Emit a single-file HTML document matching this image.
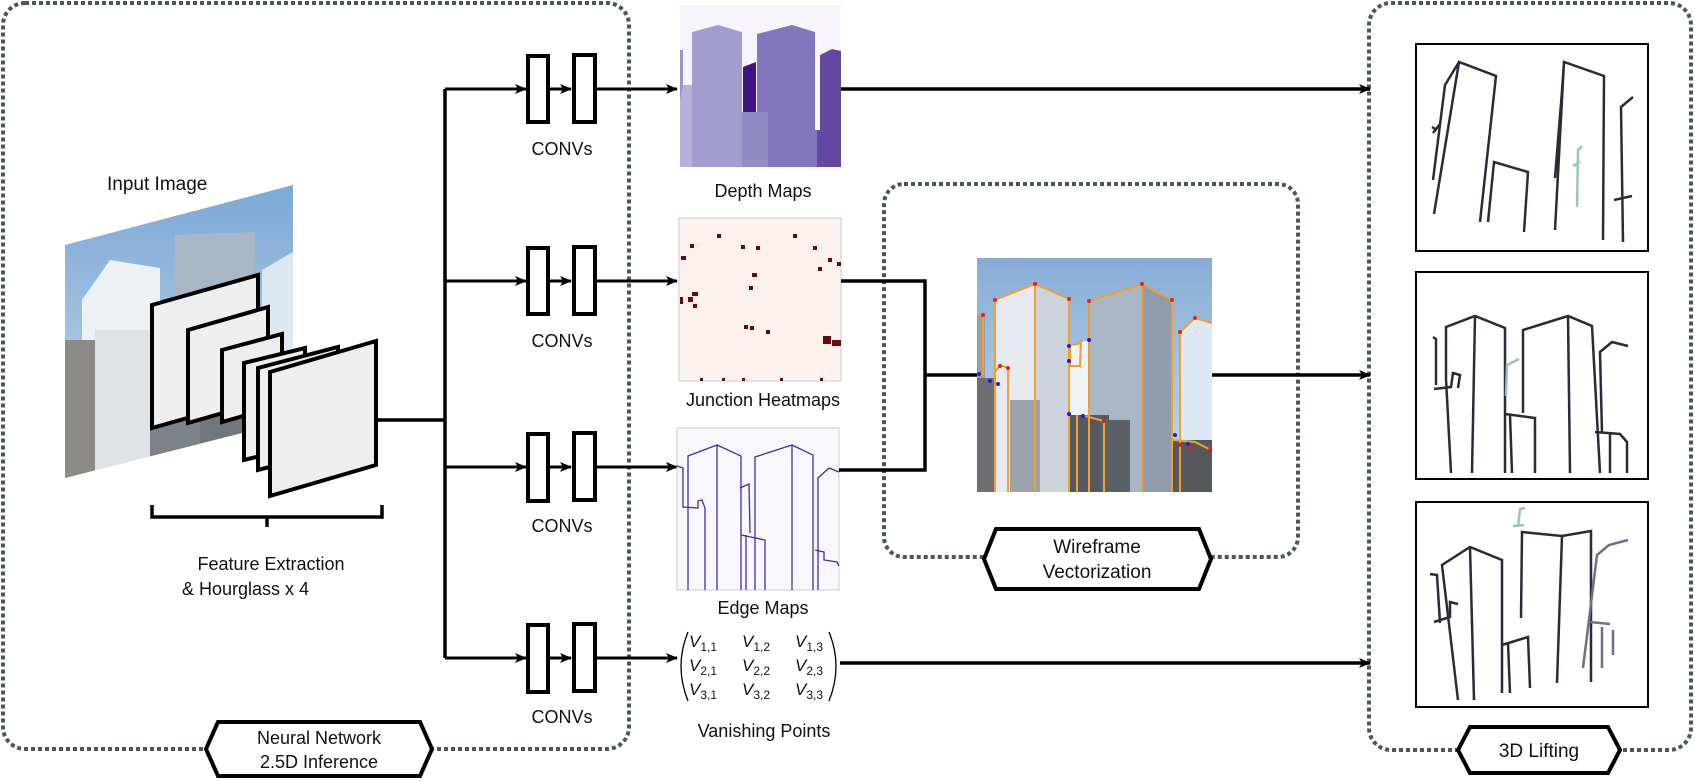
<!DOCTYPE html>
<html><head><meta charset="utf-8"><style>
html,body{margin:0;padding:0;background:#fff}
svg{display:block}
text{font-family:"Liberation Sans",Arial,sans-serif;fill:#111}
</style></head><body>
<svg width="1695" height="781" viewBox="0 0 1695 781" xmlns="http://www.w3.org/2000/svg">
<defs>
<marker id="ar" markerWidth="12" markerHeight="10" refX="11" refY="5" orient="auto" markerUnits="userSpaceOnUse">
<path d="M0,0 L12,5 L0,10 L3,5 Z" fill="#000"/></marker>
<linearGradient id="sky" x1="0" y1="0" x2="0" y2="1"><stop offset="0" stop-color="#7ba8d6"/><stop offset="1" stop-color="#c4d9ec"/></linearGradient>
<linearGradient id="sky2" x1="0" y1="0" x2="0" y2="1"><stop offset="0" stop-color="#86acd6"/><stop offset="1" stop-color="#c8dcee"/></linearGradient>
<clipPath id="cin"><polygon points="65,245 293,185 293,420 65,478"/></clipPath>
</defs>

<g fill="none" stroke="#4b575b" stroke-width="4" stroke-dasharray="4 3">
<rect x="3" y="3" width="626" height="746" rx="22"/>
<rect x="1369" y="3" width="322" height="747" rx="22"/>
<rect x="884" y="184" width="414" height="373" rx="20"/>
</g>

<text x="107" y="190" font-size="19">Input Image</text>
<g clip-path="url(#cin)">
<rect x="60" y="180" width="240" height="300" fill="url(#sky)"/>
<polygon points="82,300 110,260 160,268 160,480 82,480" fill="#eef1f3"/>
<polygon points="175,235 255,232 255,480 175,480" fill="#a7b7c6"/>
<polygon points="262,270 293,252 293,480 262,480" fill="#dde9f2"/>
<rect x="65" y="340" width="30" height="140" fill="#8b8a86"/>
<rect x="95" y="330" width="70" height="150" fill="#dfe3e6"/>
<rect x="150" y="370" width="50" height="110" fill="#7d8388"/>
<rect x="200" y="380" width="60" height="100" fill="#6f767c"/>
</g>

<g fill="#eeeeee" stroke="#000" stroke-width="4" stroke-linejoin="miter">
<polygon points="152,305 258,275 258,398 152,428"/>
<polygon points="188,330 268,307 268,400 188,423"/>
<polygon points="222,350 282,334 282,405 222,422"/>
<polygon points="244,363 305,348 305,445 244,460"/>
<polygon points="258,368 338,347 338,450 258,470"/>
<polygon points="270,372 376,341 376,465 270,496"/>
</g>
<path d="M152,505 v12 h230 v-12 M267,517 v10" fill="none" stroke="#000" stroke-width="3.5"/>
<text x="271" y="570" font-size="18" text-anchor="middle">Feature Extraction</text>
<text x="182" y="595" font-size="18">&amp; Hourglass x 4</text>

<g stroke="#000" stroke-width="3.5" fill="none">
<path d="M376,420 H445"/>
<path d="M445,89 V658"/>
</g>
<g stroke="#000" stroke-width="3" fill="none">
<path d="M445,89 H526" marker-end="url(#ar)"/><path d="M550,89 H571" marker-end="url(#ar)"/><path d="M595,89 H677" marker-end="url(#ar)"/>
<path d="M445,281 H526" marker-end="url(#ar)"/><path d="M550,281 H571" marker-end="url(#ar)"/><path d="M595,281 H677" marker-end="url(#ar)"/>
<path d="M445,467 H526" marker-end="url(#ar)"/><path d="M550,467 H571" marker-end="url(#ar)"/><path d="M595,467 H677" marker-end="url(#ar)"/>
<path d="M445,658 H526" marker-end="url(#ar)"/><path d="M550,658 H571" marker-end="url(#ar)"/><path d="M595,658 H677" marker-end="url(#ar)"/>
</g>
<g fill="#fff" stroke="#000" stroke-width="4">
<rect x="528" y="56" width="20" height="66"/><rect x="574" y="55" width="21" height="67"/>
<rect x="528" y="248" width="20" height="66"/><rect x="574" y="247" width="21" height="67"/>
<rect x="528" y="434" width="20" height="67"/><rect x="574" y="433" width="21" height="67"/>
<rect x="528" y="625" width="20" height="67"/><rect x="574" y="624" width="21" height="67"/>
</g>
<g font-size="18" text-anchor="middle">
<text x="562" y="155">CONVs</text><text x="562" y="347">CONVs</text>
<text x="562" y="532">CONVs</text><text x="562" y="723">CONVs</text>
</g>

<rect x="680" y="5" width="161" height="162" fill="#f7f5fb"/>
<polygon points="680,50 683,50 683,100 680,100" fill="#9a92c8"/>
<polygon points="692,32 718,25 742,32 742,167 692,167" fill="#a39dce"/>
<polygon points="743,67 756,62 756,112 743,112" fill="#3c1484"/>
<polygon points="742,112 768,112 768,167 742,167" fill="#938bc4"/>
<polygon points="757,34 792,25 815,32 815,130 825,130 825,167 768,167 768,112 757,112" fill="#8276bc"/>
<polygon points="820,55 832,49 841,51 841,167 817,167 817,130 820,130" fill="#6447a0"/>
<polygon points="683,85 692,85 692,167 680,167 680,100" fill="#b6b0da"/>
<text x="763" y="197" font-size="18" text-anchor="middle">Depth Maps</text>

<rect x="679" y="218" width="162" height="163" fill="#fdf1ee" stroke="#ccc" stroke-width="1"/>
<g fill="#6b0a0a">
<rect x="717" y="234" width="4" height="4"/><rect x="741" y="245" width="4" height="4"/><rect x="793" y="234" width="4" height="4"/>
<rect x="690" y="244" width="4" height="4"/><rect x="756" y="246" width="4" height="4"/><rect x="813" y="246" width="4" height="4"/>
<rect x="828" y="258" width="4" height="4"/><rect x="837" y="262" width="4" height="4"/><rect x="818" y="267" width="4" height="4"/>
<rect x="752" y="273" width="5" height="4"/><rect x="749" y="286" width="4" height="4"/><rect x="681" y="256" width="5" height="4"/>
<rect x="692" y="292" width="6" height="4"/><rect x="688" y="297" width="5" height="5"/><rect x="680" y="297" width="3" height="7"/>
<rect x="693" y="304" width="4" height="4"/><rect x="744" y="325" width="4" height="4"/><rect x="750" y="326" width="4" height="4"/>
<rect x="766" y="330" width="4" height="4"/><rect x="823" y="336" width="8" height="8"/><rect x="832" y="340" width="9" height="6"/>
<rect x="700" y="378" width="3" height="3"/><rect x="722" y="378" width="3" height="3"/><rect x="742" y="378" width="3" height="3"/><rect x="780" y="378" width="3" height="3"/><rect x="820" y="378" width="3" height="3"/>
</g>
<text x="763" y="406" font-size="18" text-anchor="middle">Junction Heatmaps</text>

<rect x="677" y="428" width="162" height="162" fill="#f8f7fd" stroke="#ccc" stroke-width="1"/>
<g fill="none" stroke="#4b2c9a" stroke-width="1.3">
<path d="M688,590 V456 L717,445 L741,456 V590 M717,445 V590"/>
<path d="M755,590 V457 L792,445 L813,455 V590 M792,445 V590"/>
<path d="M818,590 V478 L829,468 L839,472"/>
<path d="M677,466 L683,468 V507 L698,508 V501 L702,500 L705,508 V590"/>
<path d="M740,488 L749,484 L750,533 M741,535 L765,540 V590 M746,535 V590"/>
<path d="M815,550 L824,552 V560 L837,562 L839,566"/>
</g>
<text x="763" y="614" font-size="18" text-anchor="middle">Edge Maps</text>

<g font-family="Liberation Serif,serif" font-style="italic" font-size="17">
<path d="M688,632 Q674,666 688,701" fill="none" stroke="#000" stroke-width="1.3"/>
<path d="M829,632 Q843,666 829,701" fill="none" stroke="#000" stroke-width="1.3"/>
<text x="689" y="647">V<tspan font-size="12" font-style="normal" dy="4">1,1</tspan></text>
<text x="742" y="647">V<tspan font-size="12" font-style="normal" dy="4">1,2</tspan></text>
<text x="795" y="647">V<tspan font-size="12" font-style="normal" dy="4">1,3</tspan></text>
<text x="689" y="671">V<tspan font-size="12" font-style="normal" dy="4">2,1</tspan></text>
<text x="742" y="671">V<tspan font-size="12" font-style="normal" dy="4">2,2</tspan></text>
<text x="795" y="671">V<tspan font-size="12" font-style="normal" dy="4">2,3</tspan></text>
<text x="689" y="695">V<tspan font-size="12" font-style="normal" dy="4">3,1</tspan></text>
<text x="742" y="695">V<tspan font-size="12" font-style="normal" dy="4">3,2</tspan></text>
<text x="795" y="695">V<tspan font-size="12" font-style="normal" dy="4">3,3</tspan></text>
</g>
<text x="764" y="737" font-size="18" text-anchor="middle">Vanishing Points</text>

<g stroke="#000" stroke-width="3.5" fill="none">
<path d="M841,89 H1370" marker-end="url(#ar)"/>
<path d="M841,281 H925 V470 H839"/>
<path d="M925,375 H977"/>
<path d="M1212,375 H1370" marker-end="url(#ar)"/>
<path d="M840,663 H1370" marker-end="url(#ar)"/>
</g>

<rect x="977" y="258" width="235" height="234" fill="url(#sky2)"/>
<g>
<rect x="977" y="315" width="8" height="177" fill="#9a9ea3"/>
<rect x="977" y="378" width="35" height="114" fill="#6f6e72"/>
<polygon points="995,300 1035,284 1069,299 1069,492 995,492" fill="#e6eaee"/>
<polygon points="1035,284 1069,299 1069,492 1035,492" fill="#cdd3da"/>
<polygon points="1089,301 1142,284 1172,300 1172,492 1089,492" fill="#a9b6c3"/>
<polygon points="1142,284 1172,300 1172,492 1142,492" fill="#8f9dab"/>
<polygon points="1180,332 1195,318 1212,323 1212,492 1180,492" fill="#dce8f2"/>
<polygon points="1069,346 1089,340 1089,415 1069,415" fill="#eef2f5"/>
<rect x="1069" y="415" width="40" height="77" fill="#55595e"/>
<rect x="1100" y="420" width="30" height="72" fill="#5b6066"/>
<rect x="1172" y="440" width="40" height="52" fill="#55585b"/>
<rect x="1010" y="400" width="30" height="92" fill="#9aa2aa"/>
</g>
<g fill="none" stroke="#f0a030" stroke-width="2">
<path d="M995,492 V300 L1035,284 L1069,299 V492 M1035,284 V492"/>
<path d="M1089,492 V301 L1142,284 L1172,300 V492 M1142,284 V492"/>
<path d="M1180,492 V332 L1195,318 L1212,323"/>
<path d="M978,315 L983,315 V375 M993,375 L1000,365 L1008,368 V492"/>
<path d="M1070,345 L1078,344 L1081,341 L1080,366 L1070,366 Z M1077,415 V492 M1085,416 L1104,421 V492"/>
<path d="M1173,440 L1195,442 L1211,450"/>
</g>
<g fill="#e02020">
<circle cx="1035" cy="284" r="2"/><circle cx="995" cy="300" r="2"/><circle cx="1069" cy="299" r="2"/>
<circle cx="1142" cy="284" r="2"/><circle cx="1089" cy="301" r="2"/><circle cx="1172" cy="300" r="2"/>
<circle cx="1180" cy="332" r="2"/><circle cx="1195" cy="318" r="2"/><circle cx="983" cy="315" r="2"/>
<circle cx="1000" cy="366" r="2"/><circle cx="1008" cy="368" r="2"/><circle cx="1104" cy="421" r="2"/>
<circle cx="1180" cy="445" r="2"/><circle cx="1190" cy="447" r="2"/><circle cx="1210" cy="450" r="2"/>
</g>
<g fill="#2020d0">
<circle cx="979" cy="374" r="2"/><circle cx="990" cy="381" r="2"/><circle cx="998" cy="384" r="2"/>
<circle cx="1069" cy="346" r="2"/><circle cx="1069" cy="361" r="2"/><circle cx="1089" cy="340" r="2"/>
<circle cx="1069" cy="414" r="2"/><circle cx="1083" cy="416" r="2"/><circle cx="1175" cy="435" r="2"/><circle cx="1188" cy="444" r="2"/>
</g>

<g fill="#fff" stroke="#000" stroke-width="2">
<rect x="1416" y="44" width="232" height="207"/>
<rect x="1416" y="272" width="232" height="207"/>
<rect x="1416" y="502" width="232" height="205"/>
</g>
<g fill="none" stroke="#2a2a3a" stroke-width="2.5">
<path d="M1434,214 L1459,62 L1496,76 L1480,222 M1459,62 L1445,85 L1433,180"/>
<path d="M1488,222 L1494,162 L1528,172 L1524,232"/>
<path d="M1555,178 L1562,91 L1564,62 L1604,76 L1603,240 M1564,62 L1555,230"/>
<path d="M1623,242 L1621,107 L1633,97 M1614,200 L1632,196"/>
<path d="M1432,127 L1437,130 M1433,133 L1440,124"/>
</g>
<path d="M1577,207 L1578,150 L1582,146 M1573,166 L1580,162" fill="none" stroke="#9cc4bf" stroke-width="2.5"/>
<g fill="none" stroke="#2a2a3a" stroke-width="2.5">
<path d="M1434,389 L1451,387 L1453,373 L1460,375 L1458,388 M1433,337 L1436,339 L1436,385"/>
<path d="M1451,473 L1446,379 V327 L1475,316 L1505,328 L1505,473 M1475,316 L1472,473"/>
<path d="M1505,414 L1535,418 V473 M1510,415 L1512,473"/>
<path d="M1523,413 L1523,330 L1568,316 L1592,326 L1600,473 M1568,316 L1570,473"/>
<path d="M1602,433 L1600,352 L1612,342 L1628,346 M1595,432 L1620,434 L1627,442 V473 M1610,433 V473"/>
</g>
<path d="M1506,396 L1507,365 L1519,359" fill="none" stroke="#9cc4bf" stroke-width="2.5"/>
<g fill="none" stroke="#2a2a3a" stroke-width="2.5">
<path d="M1440,623 L1437,575 L1430,574 M1434,622 L1450,617 L1450,602 L1458,604"/>
<path d="M1458,700 L1442,565 L1470,547 L1502,560 L1502,693 M1470,547 L1474,700"/>
<path d="M1502,645 L1515,641 L1528,637 L1530,688 M1508,643 L1510,693"/>
<path d="M1521,618 L1522,532 L1562,536 L1591,531 L1591,682 M1562,536 L1557,683"/>
</g>
<g fill="none" stroke="#6f7088" stroke-width="2.5">
<path d="M1583,668 L1597,555 L1609,545 L1628,540 M1590,622 L1610,624 M1602,627 V668 M1613,630 V655"/>
</g>
<path d="M1518,527 L1520,509 L1525,508 M1513,526 L1524,525" fill="none" stroke="#9cc4bf" stroke-width="2.5"/>

<g fill="#fff" stroke="#000" stroke-width="4" stroke-linejoin="miter">
<polygon points="218,722 420,722 432,749 420,776 218,776 206,749"/>
<polygon points="996,529 1199,529 1211,559 1199,589 996,589 984,559"/>
<polygon points="1470,727 1608,727 1620,750 1608,773 1470,773 1458,750"/>
</g>
<text x="319" y="744" font-size="18" text-anchor="middle">Neural Network</text>
<text x="319" y="768" font-size="18" text-anchor="middle">2.5D Inference</text>
<text x="1097" y="553" font-size="19" text-anchor="middle">Wireframe</text>
<text x="1097" y="578" font-size="19" text-anchor="middle">Vectorization</text>
<text x="1539" y="757" font-size="19" text-anchor="middle">3D Lifting</text>
</svg>
</body></html>
